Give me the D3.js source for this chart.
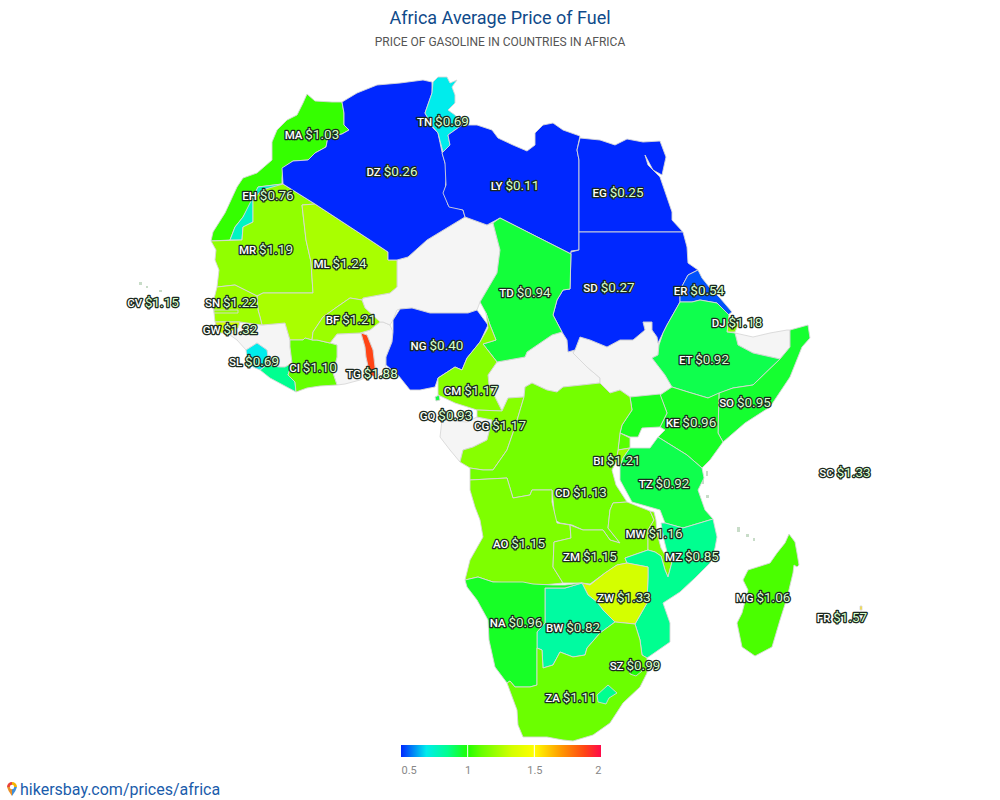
<!DOCTYPE html>
<html>
<head>
  <meta charset="utf-8">
  <title>Africa Average Price of Fuel</title>
  <script src="https://cdn.jsdelivr.net/npm/d3@7"></script>
  <style>
    html, body { margin: 0; padding: 0; background: #fff; }
    svg { display: block; font-family: Roboto, sans-serif; }
    .country { stroke: #d8d8d8; stroke-width: 0.9; stroke-linejoin: round; }
    .isle { fill: #c8dcc8; }
    .lab { text-anchor: middle; paint-order: stroke; stroke: #1c2a20; stroke-width: 2.6px; stroke-linejoin: round; }
    .lab .code { font-size: 11.5px; font-weight: 500; fill: #fff; }
    .lab .price { font-size: 13.5px; font-weight: 400; fill: #d8ffce; }
  </style>
</head>
<body>
<div id="container"></div>

<script>
// labelled countries and the price shown on the map
var codes = ["MA","DZ","TN","LY","EG","EH","MR","ML","SN","CV","GW","BF","NG","TD","SD","ER","DJ","ET","SO","KE",
             "SL","CI","TG","CM","GQ","CG","BI","TZ","CD","MW","AO","ZM","MZ","ZW","NA","BW","SZ","ZA","MG","FR","SC"];
var prices = [1.03,0.26,0.69,0.11,0.25,0.76,1.19,1.24,1.22,1.15,1.32,1.21,0.40,0.94,0.27,0.54,1.18,0.92,0.95,0.96,
              0.69,1.10,1.88,1.17,0.93,1.17,1.21,0.92,1.13,1.16,1.15,1.15,0.85,1.33,0.96,0.82,0.99,1.11,1.06,1.57,1.33];

// coloured on the map but without a label, estimated from their colour
var quietCodes = ["LR","UG","RW","LS","GM"];
var quietPrices = [0.85,0.97,1.08,0.85,1.20];

// grey countries
var noData = ["NE","GN","GH","BJ","CF","SS","GA","SOL"];

var scaleStops = [0.5,0.69,0.85,1,1.1,1.33,1.5,1.7,1.88,2];
var scaleColors = ["#0028ff","#00ecec","#00ff90","#20ff00","#66ff00","#d4ff00","#ffff00","#ff9900","#ff4415","#ff0a4a"];
var legendTicks = [0.5,1,1.5,2];

// outlines
var outlines = {
  MA: [[307,94],[315,101],[332,102],[342,102],[344,113],[344,125],[349,130],[342,134],[328,137],[326,147],[315,153],[308,160],[293,161],[283,168],[282,178],[282,184],[258,187],[253,200],[243,217],[235,227],[230,240],[211,241],[213,232],[225,213],[231,200],[237,187],[243,178],[257,173],[272,160],[272,142],[277,130],[287,120],[297,115],[303,103]],
  EH: [[258,187],[282,184],[283,186],[262,190],[253,200],[253,222],[243,227],[242,240],[230,240],[235,227],[243,217]],
  MR: [[283,184],[315,204],[302,205],[306,240],[311,262],[313,293],[263,293],[257,296],[235,285],[217,287],[219,270],[215,260],[216,250],[211,241],[242,240],[243,227],[253,222],[253,200],[262,190]],
  ML: [[302,205],[315,204],[370,240],[388,252],[388,260],[397,260],[397,287],[390,293],[363,298],[362,300],[350,298],[337,307],[323,317],[313,332],[312,340],[305,338],[303,340],[290,340],[285,323],[262,325],[260,317],[258,310],[257,296],[263,293],[313,293],[311,262],[306,240]],
  SN: [[217,287],[235,285],[257,296],[258,310],[260,317],[262,325],[240,322],[215,322],[213,303]],
  GM: [[214,310],[238,310],[238,313],[214,313]],
  GW: [[215,322],[240,322],[238,328],[227,333],[220,333]],
  GN: [[230,335],[238,328],[240,322],[262,325],[285,323],[290,340],[290,347],[292,363],[285,367],[280,367],[268,357],[267,350],[257,343],[246,350],[237,340]],
  SL: [[246,350],[257,343],[267,350],[268,357],[267,365],[260,370],[253,367],[247,358]],
  LR: [[260,370],[267,365],[280,367],[285,367],[292,363],[288,375],[295,382],[296,392],[283,385],[270,378]],
  CI: [[290,340],[303,340],[305,338],[312,340],[317,340],[330,343],[337,345],[337,357],[333,373],[337,385],[320,386],[307,388],[296,392],[295,382],[288,375],[292,363],[290,347]],
  BF: [[323,317],[337,307],[350,298],[362,300],[365,308],[380,322],[370,330],[360,333],[337,334],[330,343],[317,340],[312,340],[313,332]],
  GH: [[337,334],[361,333],[365,347],[366,357],[370,375],[360,380],[345,384],[337,385],[333,373],[337,357],[337,345],[330,343]],
  TG: [[361,333],[367,335],[369,340],[373,350],[375,367],[375,377],[370,375],[366,357],[365,347]],
  BJ: [[361,333],[370,330],[380,322],[383,322],[390,325],[393,332],[392,342],[386,357],[385,370],[375,377],[375,367],[373,350],[369,340],[367,335]],
  NE: [[397,260],[408,257],[427,240],[465,217],[487,225],[493,223],[500,250],[497,273],[480,302],[477,310],[468,313],[443,313],[430,313],[412,308],[400,309],[397,310],[393,320],[390,325],[383,322],[380,322],[365,308],[362,300],[363,298],[390,293],[397,287]],
  NG: [[400,309],[412,308],[430,313],[443,313],[468,313],[477,310],[488,325],[480,342],[467,358],[462,370],[455,367],[438,378],[435,387],[420,390],[410,390],[398,375],[386,365],[386,357],[392,342],[393,332],[393,320]],
  DZ: [[342,102],[357,93],[377,85],[400,83],[423,80],[432,82],[432,93],[425,113],[433,128],[438,133],[442,152],[447,170],[445,192],[448,205],[463,210],[465,217],[427,240],[408,257],[397,260],[388,260],[388,252],[370,240],[315,204],[283,184],[282,168],[293,161],[308,160],[315,153],[326,147],[328,137],[342,134],[349,130],[344,125],[344,113]],
  TN: [[433,82],[438,77],[447,77],[450,83],[457,80],[452,87],[455,95],[455,103],[448,110],[455,115],[462,125],[448,135],[450,145],[443,152],[438,133],[433,127],[425,113],[432,93]],
  LY: [[462,125],[477,125],[492,130],[498,138],[513,145],[527,151],[535,145],[535,133],[543,125],[553,123],[563,130],[580,136],[577,150],[579,160],[579,250],[571,251],[571,254],[500,218],[487,225],[465,217],[463,210],[449,207],[443,193],[446,185],[445,163],[442,153],[450,145],[448,135]],
  EG: [[580,138],[600,140],[615,145],[627,139],[643,142],[660,141],[666,157],[662,175],[653,170],[645,155],[648,165],[660,177],[672,212],[672,220],[683,232],[579,232],[579,160],[577,150]],
  SD: [[571,252],[579,250],[579,232],[683,232],[687,247],[688,263],[698,270],[688,275],[680,290],[680,302],[667,325],[663,333],[658,343],[657,337],[652,330],[652,322],[643,322],[645,330],[633,340],[620,340],[607,347],[590,340],[580,337],[575,350],[568,352],[567,340],[562,332],[553,315],[557,300],[563,290],[570,289]],
  TD: [[500,218],[571,254],[570,289],[563,290],[557,300],[553,315],[562,332],[552,335],[527,352],[525,357],[497,362],[483,344],[496,340],[490,325],[486,313],[480,302],[497,273],[500,250],[493,223]],
  ER: [[680,302],[680,290],[688,275],[698,270],[702,278],[710,288],[720,298],[732,312],[728,315],[717,303],[700,300],[692,302]],
  DJ: [[732,315],[738,325],[735,332],[727,332],[728,323]],
  ET: [[680,302],[692,302],[700,300],[717,303],[729,315],[727,332],[735,333],[738,345],[753,353],[780,359],[753,385],[733,388],[720,393],[708,398],[688,392],[672,387],[665,375],[652,358],[658,355],[659,345],[663,333],[667,325]],
  SOL: [[735,333],[753,337],[770,333],[787,330],[790,330],[790,347],[780,359],[753,353],[738,345]],
  SO: [[790,330],[808,325],[810,338],[802,347],[790,377],[770,407],[745,423],[723,442],[718,433],[719,393],[733,388],[753,385],[780,359],[790,347]],
  KE: [[672,387],[688,392],[708,398],[719,393],[718,433],[723,442],[710,460],[702,468],[687,455],[658,437],[665,430],[660,427],[667,413],[660,395]],
  UG: [[630,397],[660,394],[667,413],[660,427],[642,428],[638,437],[630,437],[620,433],[622,425],[632,410]],
  RW: [[620,433],[630,438],[630,448],[618,450]],
  BI: [[618,450],[630,448],[623,458],[620,467],[616,462]],
  TZ: [[630,448],[638,448],[650,448],[658,437],[687,455],[702,468],[704,478],[698,490],[705,510],[713,519],[683,528],[665,523],[660,510],[632,502],[620,480],[620,467],[623,458]],
  CF: [[497,362],[525,357],[527,352],[552,335],[562,332],[567,340],[568,352],[575,350],[573,353],[587,367],[600,378],[600,383],[582,385],[563,387],[557,392],[547,390],[532,383],[525,387],[524,397],[508,398],[502,411],[489,385],[488,375]],
  SS: [[580,337],[590,340],[607,347],[620,340],[633,340],[645,330],[643,322],[652,322],[652,330],[657,337],[658,343],[659,345],[658,355],[652,358],[665,375],[672,387],[660,395],[630,397],[620,390],[610,393],[600,383],[600,378],[587,367],[573,353],[575,350]],
  CM: [[486,313],[490,325],[496,340],[483,344],[497,362],[488,375],[489,385],[502,411],[477,410],[455,403],[438,395],[438,378],[455,367],[462,370],[467,358],[480,342],[488,328]],
  GA: [[442,420],[467,422],[477,417],[492,420],[487,440],[473,447],[463,450],[460,462],[450,450],[440,437]],
  CG: [[508,398],[524,397],[515,427],[507,450],[493,470],[483,470],[470,468],[460,462],[463,450],[473,447],[487,440],[492,420],[477,417],[477,410],[502,411]],
  CD: [[525,387],[532,383],[547,390],[557,392],[563,387],[582,385],[600,383],[610,393],[620,390],[630,397],[632,410],[622,425],[620,433],[618,450],[616,462],[612,470],[616,485],[627,502],[613,503],[610,510],[608,528],[620,543],[610,540],[603,530],[583,530],[572,525],[560,523],[555,520],[552,490],[542,490],[532,490],[530,495],[513,498],[507,478],[470,480],[470,468],[483,470],[493,470],[507,450],[515,427],[524,397]],
  AO: [[470,480],[507,478],[513,498],[530,495],[532,490],[542,490],[552,490],[552,502],[557,523],[570,525],[571,538],[554,542],[553,567],[563,583],[543,585],[510,583],[493,582],[478,577],[465,580],[470,560],[483,537],[480,520],[475,507],[470,490]],
  ZM: [[570,525],[583,530],[603,530],[610,540],[620,543],[608,528],[610,510],[613,503],[627,502],[650,511],[654,520],[648,530],[648,550],[625,558],[627,563],[617,565],[605,573],[590,584],[582,583],[563,583],[553,567],[554,542],[571,538]],
  MW: [[650,511],[654,512],[656,520],[657,533],[661,548],[668,560],[672,562],[668,577],[665,570],[661,556],[655,552],[648,550],[648,530],[654,520]],
  MZ: [[625,558],[648,550],[655,552],[661,556],[665,570],[668,577],[672,562],[668,556],[664,540],[661,523],[665,523],[683,528],[713,519],[717,537],[715,548],[710,563],[695,578],[680,592],[663,603],[670,623],[670,642],[647,658],[642,655],[640,640],[635,624],[647,603],[648,577],[648,567],[627,563]],
  ZW: [[582,583],[590,585],[605,573],[617,565],[627,563],[648,567],[648,577],[647,603],[635,624],[615,622],[603,610],[597,602],[588,595]],
  BW: [[545,588],[565,588],[582,583],[588,595],[597,602],[603,610],[615,622],[600,633],[587,648],[585,655],[573,657],[560,652],[553,665],[543,668],[542,650],[537,648],[537,632],[545,623]],
  NA: [[465,580],[478,577],[493,582],[523,582],[533,584],[553,585],[565,585],[582,583],[565,588],[545,588],[545,623],[537,632],[537,685],[530,687],[515,687],[510,681],[507,683],[495,667],[489,640],[488,620],[477,600],[467,587]],
  ZA: [[537,685],[537,648],[542,650],[543,668],[553,665],[560,652],[573,657],[585,655],[587,648],[600,633],[615,622],[635,624],[640,640],[642,655],[647,658],[647,673],[640,687],[623,703],[610,723],[593,735],[573,741],[563,740],[547,737],[530,737],[523,737],[518,725],[517,710],[507,683],[510,681],[515,687],[530,687]],
  SZ: [[630,668],[638,665],[642,671],[636,676],[630,674]],
  LS: [[597,695],[608,685],[617,693],[609,698],[606,704],[598,702]],
  MG: [[789,534],[795,542],[797,553],[799,565],[797,567],[794,565],[793,573],[787,598],[780,620],[772,647],[755,656],[742,647],[737,623],[742,613],[748,590],[743,580],[748,570],[770,563],[777,553],[785,543]],
  GQ: [[435,397],[439,395],[440,400],[436,401]],
  FR: [[860,606],[862,606],[862,610],[860,610]]
};

// scattered small islands
var islands = [
  [[139,282],[142,282],[142,285],[139,285]], [[146,286],[148,286],[148,288],[146,288]], [[159,290],[162,290],[162,292],[159,292]],
  [[737,527],[740,527],[740,532],[737,532]], [[746,534],[749,534],[749,537],[746,537]], [[753,538],[755,538],[755,541],[753,541]],
  [[706,471],[708,471],[708,476],[706,476]], [[702,479],[704,479],[704,484],[702,484]], [[706,495],[709,495],[709,498],[706,498]]
];

// label anchor of each code, in the same order as codes
var labelAt = [[312,134],[392,171],[443,121],[515,185],[618,192],[268,195],[266,249],[340,263],[231,302],[153,302],[230,329],[351,319],[437,345],[525,292],[609,287],[699,290],[737,322],[704,359],[745,402],[691,422],
               [254,361],[313,367],[372,373],[471,390],[446,415],[500,425],[617,460],[664,483],[581,492],[654,533],[519,543],[590,556],[692,556],[624,597],[516,622],[573,627],[635,665],[571,697],[763,597],[842,617],[845,472]];

var svg = d3.select("#container").append("svg").attr("width", 1000).attr("height", 800);

var color = d3.scaleLinear().domain(scaleStops).range(scaleColors).clamp(true);
var path = d3.geoPath(d3.geoIdentity());

function poly(points) {
  var ring = points.concat([points[0]]);
  return { type: "Polygon", coordinates: [ring] };
}

svg.append("text").attr("x", 500).attr("y", 24).attr("text-anchor", "middle")
  .style("font-size", "18px").style("fill", "#0f4a8a").text("Africa Average Price of Fuel");
svg.append("text").attr("x", 500).attr("y", 46).attr("text-anchor", "middle")
  .style("font-size", "12px").style("fill", "#555").text("PRICE OF GASOLINE IN COUNTRIES IN AFRICA");

var priceOf = {};
codes.forEach(function(c, i) { priceOf[c] = prices[i]; });
quietCodes.forEach(function(c, i) { priceOf[c] = quietPrices[i]; });

var map = svg.append("g").attr("id", "map");

map.selectAll("path.isle").data(islands).enter().append("path")
  .attr("class", "isle").attr("d", function(d) { return path(poly(d)); });

// grey ones first, then the rest, GM and SZ and LS stay above their neighbours
var order = Object.keys(outlines).sort(function(a, b) {
  return (noData.indexOf(b) >= 0 ? 1 : 0) - (noData.indexOf(a) >= 0 ? 1 : 0);
});
map.selectAll("path.country").data(order).enter().append("path")
  .attr("class", "country")
  .attr("d", function(d) { return path(poly(outlines[d])); })
  .style("fill", function(d) { return noData.indexOf(d) >= 0 ? "#f5f5f5" : color(priceOf[d]); });

var labels = svg.append("g").attr("id", "labels");
codes.forEach(function(c, i) {
  var t = labels.append("text").attr("class", "lab")
    .attr("x", labelAt[i][0]).attr("y", labelAt[i][1] + 4.5);
  t.append("tspan").attr("class", "code").text(c + " ");
  t.append("tspan").attr("class", "price").text("$" + prices[i].toFixed(2));
});

// legend
var legendX = d3.scaleLinear().domain([0.5, 2]).range([401, 601]);

var grad = svg.append("defs").append("linearGradient").attr("id", "legendGrad");
grad.selectAll("stop").data(scaleStops).enter().append("stop")
  .attr("offset", function(d) { return (d - 0.5) / 1.5; })
  .attr("stop-color", function(d) { return color(d); });

var legend = svg.append("g").attr("id", "legend");
legend.append("rect").attr("x", 401).attr("y", 745).attr("width", 200).attr("height", 12)
  .style("fill", "url(#legendGrad)");
legend.selectAll("line").data([1, 1.5]).enter().append("line")
  .attr("x1", legendX).attr("x2", legendX).attr("y1", 745).attr("y2", 757)
  .style("stroke", "#fff").style("stroke-width", 1);

var axis = legend.append("g").attr("transform", "translate(0,763)")
  .call(d3.axisBottom(legendX).tickValues(legendTicks).tickSize(0).tickFormat(d3.format("")));
axis.select(".domain").remove();
axis.selectAll("text")
  .style("font-family", "Roboto, sans-serif").style("font-size", "11px").style("fill", "#888")
  .attr("text-anchor", function(d) { return d == 0.5 ? "start" : d == 2 ? "end" : "middle"; });

// footer link with the pin
var pin = svg.append("g").attr("transform", "translate(12,788)");
pin.append("path").attr("d", "M-5,-1 A5,5 0 0 1 0,-6 L0,-1 Z").style("fill", "#e8433a");
pin.append("path").attr("d", "M0,-6 A5,5 0 0 1 5,-1 L0,-1 Z").style("fill", "#f4b400");
pin.append("path").attr("d", "M-5,-1 Q-4,3 0,8 L0,-1 Z").style("fill", "#e9902a");
pin.append("path").attr("d", "M5,-1 Q4,3 0,8 L0,-1 Z").style("fill", "#3f8fd8");
pin.append("circle").attr("r", 2.2).attr("cy", -1).style("fill", "#fff");

svg.append("text").attr("x", 20).attr("y", 795)
  .style("font-size", "16px").style("fill", "#1a5cab").text("hikersbay.com/prices/africa");
</script>
</body>
</html>
